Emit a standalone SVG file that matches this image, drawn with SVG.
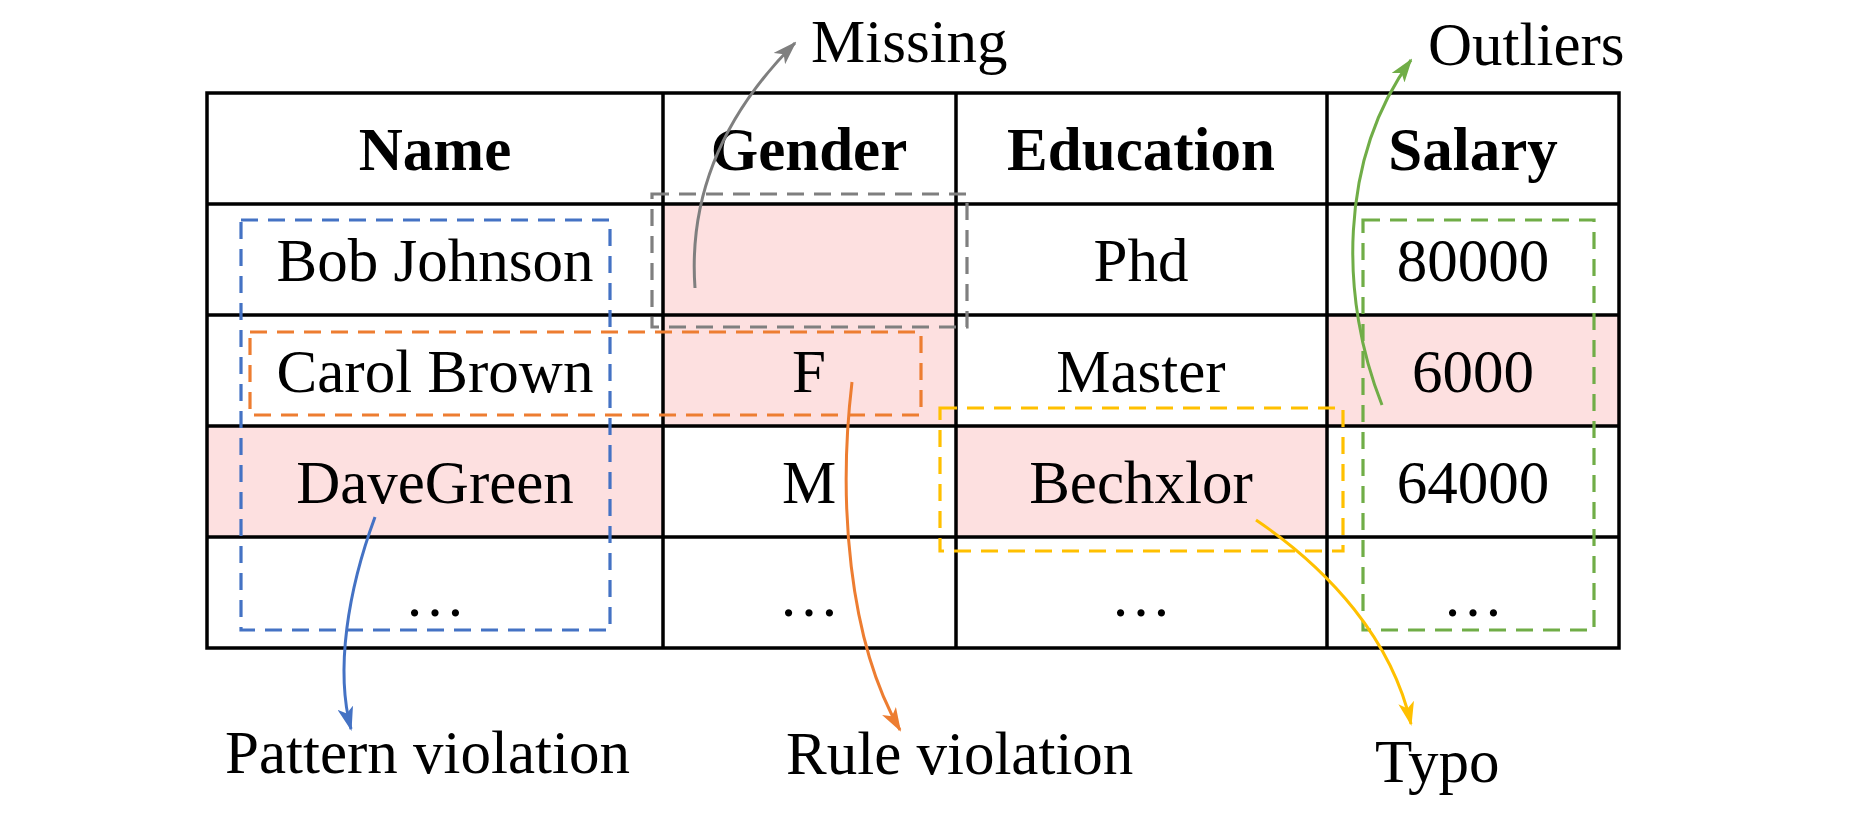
<svg xmlns="http://www.w3.org/2000/svg" width="1856" height="832" viewBox="0 0 1856 832">
<style>
.hd{font-family:"Liberation Serif","Times New Roman",serif;font-weight:bold;font-size:61px;text-anchor:middle;fill:#000}
.tx{font-family:"Liberation Serif","Times New Roman",serif;font-size:61px;text-anchor:middle;fill:#000}
.lb{font-family:"Liberation Serif","Times New Roman",serif;font-size:61px;fill:#000}
.grid{stroke:#000;stroke-width:3.5;fill:none}
.pink{fill:#fde0e0}
.box{fill:none;stroke-width:3.2;stroke-dasharray:17 10}
.arr{fill:none;stroke-width:3}
</style>
<defs>
<marker id="mg" viewBox="0 0 24 16" refX="22" refY="8" markerWidth="24" markerHeight="16" markerUnits="userSpaceOnUse" orient="auto"><path d="M0,0 L24,8 L0,16 L6,8 z" fill="#7f7f7f"/></marker>
<marker id="mb" viewBox="0 0 24 16" refX="22" refY="8" markerWidth="24" markerHeight="16" markerUnits="userSpaceOnUse" orient="auto"><path d="M0,0 L24,8 L0,16 L6,8 z" fill="#4472c4"/></marker>
<marker id="mo" viewBox="0 0 24 16" refX="22" refY="8" markerWidth="24" markerHeight="16" markerUnits="userSpaceOnUse" orient="auto"><path d="M0,0 L24,8 L0,16 L6,8 z" fill="#ed7d31"/></marker>
<marker id="my" viewBox="0 0 24 16" refX="22" refY="8" markerWidth="24" markerHeight="16" markerUnits="userSpaceOnUse" orient="auto"><path d="M0,0 L24,8 L0,16 L6,8 z" fill="#ffc000"/></marker>
<marker id="mgr" viewBox="0 0 24 16" refX="22" refY="8" markerWidth="24" markerHeight="16" markerUnits="userSpaceOnUse" orient="auto"><path d="M0,0 L24,8 L0,16 L6,8 z" fill="#70ad47"/></marker>
</defs>
<rect width="1856" height="832" fill="#fff"/>
<g id="table">
<rect class="pink" x="663" y="204" width="293" height="222"/>
<rect class="pink" x="1327" y="315" width="292" height="111"/>
<rect class="pink" x="207" y="426" width="456" height="111"/>
<rect class="pink" x="956" y="426" width="371" height="111"/>
<rect class="grid" x="207" y="93" width="1412" height="555"/>
<path class="grid" d="M207,204H1619M207,315H1619M207,426H1619M207,537H1619M663,93V648M956,93V648M1327,93V648"/>
<text class="hd" x="435" y="170">Name</text>
<text class="hd" x="809" y="170">Gender</text>
<text class="hd" x="1141" y="170">Education</text>
<text class="hd" x="1473" y="170">Salary</text>
<text class="tx" x="435" y="281">Bob Johnson</text>
<text class="tx" x="1141" y="281">Phd</text>
<text class="tx" x="1473" y="281">80000</text>
<text class="tx" x="435" y="392">Carol Brown</text>
<text class="tx" x="809" y="392">F</text>
<text class="tx" x="1141" y="392">Master</text>
<text class="tx" x="1473" y="392">6000</text>
<text class="tx" x="435" y="503">DaveGreen</text>
<text class="tx" x="809" y="503">M</text>
<text class="tx" x="1141" y="503">Bechxlor</text>
<text class="tx" x="1473" y="503">64000</text>
<text class="tx" x="435" y="616">…</text>
<text class="tx" x="809" y="616">…</text>
<text class="tx" x="1141" y="616">…</text>
<text class="tx" x="1473" y="616">…</text>
</g>
<g id="missing"><rect class="box" x="652" y="194" width="315" height="133" stroke="#7f7f7f"/><text class="lb" x="811" y="62">Missing</text></g>
<g id="pattern"><rect class="box" x="241" y="220" width="369" height="410" stroke="#4472c4"/><text class="lb" x="225" y="773">Pattern violation</text></g>
<g id="rule"><rect class="box" x="250" y="332" width="671" height="83" stroke="#ed7d31"/><text class="lb" x="786" y="774">Rule violation</text></g>
<g id="typo"><rect class="box" x="940" y="408" width="403" height="143" stroke="#ffc000"/><text class="lb" x="1375" y="782">Typo</text></g>
<g id="outliers"><rect class="box" x="1363" y="220" width="231" height="410" stroke="#70ad47"/><text class="lb" x="1428" y="65">Outliers</text></g>
<g id="connectors">
<path class="arr" stroke="#7f7f7f" marker-end="url(#mg)" d="M695,288 C688,190 728,110 795,43"/>
<path class="arr" stroke="#70ad47" marker-end="url(#mgr)" d="M1382,405 C1340,300 1338,160 1411,60"/>
<path class="arr" stroke="#4472c4" marker-end="url(#mb)" d="M375,517 C348,590 335,670 351,729"/>
<path class="arr" stroke="#ed7d31" marker-end="url(#mo)" d="M852,382 C838,500 848,640 900,730"/>
<path class="arr" stroke="#ffc000" marker-end="url(#my)" d="M1256,520 C1330,570 1392,640 1411,724"/>
</g>
</svg>
